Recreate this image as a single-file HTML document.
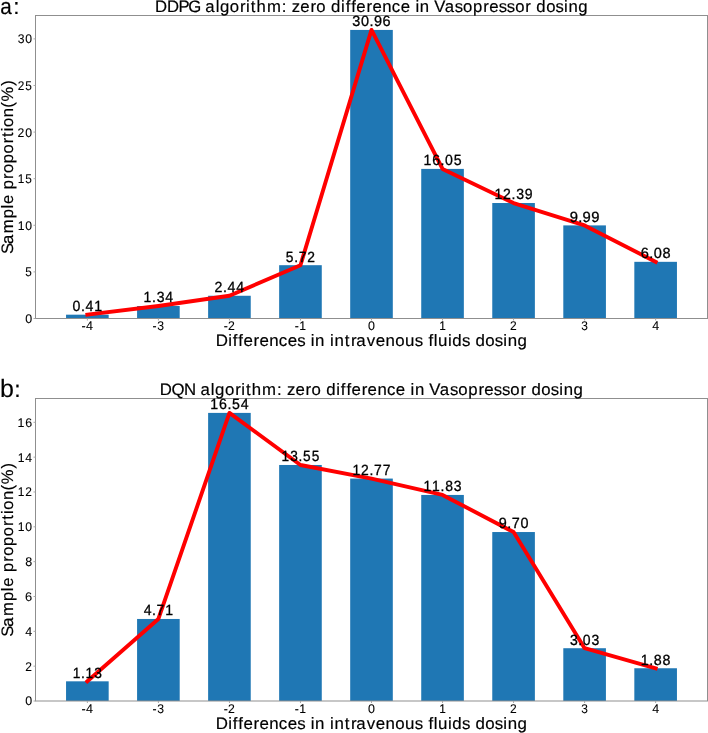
<!DOCTYPE html>
<html><head><meta charset="utf-8"><style>
html,body{margin:0;padding:0;background:#fff;}
svg{display:block;will-change:transform;}
text{font-family:"Liberation Sans",sans-serif;fill:#000;stroke:#000;font-variant-ligatures:none;text-rendering:geometricPrecision;}
</style></head><body>
<svg width="708" height="733" viewBox="0 0 708 733">
<rect width="708" height="733" fill="#fff"/>
<rect x="66.05" y="314.68" width="42.62" height="3.82" fill="#1f77b4"/>
<rect x="137.08" y="306.01" width="42.62" height="12.49" fill="#1f77b4"/>
<rect x="208.12" y="295.76" width="42.62" height="22.74" fill="#1f77b4"/>
<rect x="279.15" y="265.19" width="42.62" height="53.31" fill="#1f77b4"/>
<rect x="350.19" y="29.93" width="42.62" height="288.57" fill="#1f77b4"/>
<rect x="421.23" y="168.90" width="42.62" height="149.60" fill="#1f77b4"/>
<rect x="492.26" y="203.02" width="42.62" height="115.48" fill="#1f77b4"/>
<rect x="563.30" y="225.39" width="42.62" height="93.11" fill="#1f77b4"/>
<rect x="634.33" y="261.83" width="42.62" height="56.67" fill="#1f77b4"/>
<rect x="35.50" y="15.50" width="672.00" height="303.00" fill="none" stroke="#8f8f8f" stroke-width="1.0"/>
<line x1="87.36" y1="318.50" x2="87.36" y2="320.50" stroke="#a8a8a8" stroke-width="1"/>
<line x1="158.39" y1="318.50" x2="158.39" y2="320.50" stroke="#a8a8a8" stroke-width="1"/>
<line x1="229.43" y1="318.50" x2="229.43" y2="320.50" stroke="#a8a8a8" stroke-width="1"/>
<line x1="300.46" y1="318.50" x2="300.46" y2="320.50" stroke="#a8a8a8" stroke-width="1"/>
<line x1="371.50" y1="318.50" x2="371.50" y2="320.50" stroke="#a8a8a8" stroke-width="1"/>
<line x1="442.54" y1="318.50" x2="442.54" y2="320.50" stroke="#a8a8a8" stroke-width="1"/>
<line x1="513.57" y1="318.50" x2="513.57" y2="320.50" stroke="#a8a8a8" stroke-width="1"/>
<line x1="584.61" y1="318.50" x2="584.61" y2="320.50" stroke="#a8a8a8" stroke-width="1"/>
<line x1="655.64" y1="318.50" x2="655.64" y2="320.50" stroke="#a8a8a8" stroke-width="1"/>
<line x1="33.50" y1="318.50" x2="35.50" y2="318.50" stroke="#a8a8a8" stroke-width="1"/>
<line x1="33.50" y1="271.90" x2="35.50" y2="271.90" stroke="#a8a8a8" stroke-width="1"/>
<line x1="33.50" y1="225.29" x2="35.50" y2="225.29" stroke="#a8a8a8" stroke-width="1"/>
<line x1="33.50" y1="178.69" x2="35.50" y2="178.69" stroke="#a8a8a8" stroke-width="1"/>
<line x1="33.50" y1="132.08" x2="35.50" y2="132.08" stroke="#a8a8a8" stroke-width="1"/>
<line x1="33.50" y1="85.48" x2="35.50" y2="85.48" stroke="#a8a8a8" stroke-width="1"/>
<line x1="33.50" y1="38.88" x2="35.50" y2="38.88" stroke="#a8a8a8" stroke-width="1"/>
<polyline points="87.36,314.68 158.39,306.01 229.43,295.76 300.46,265.19 371.50,29.93 442.54,168.90 513.57,203.02 584.61,225.39 655.64,261.83" fill="none" stroke="#ff0000" stroke-width="3.9" stroke-linejoin="round" stroke-linecap="square"/>
<text transform="matrix(0.9563,0,0,1,0,311.08)" x="75.91 84.75 89.48 98.45" y="0" font-size="14.82" stroke-width="0.3">0.41</text>
<text transform="matrix(0.9442,0,0,1,0,302.41)" x="152.10 161.10 165.93 175.07" y="0" font-size="14.82" stroke-width="0.3">1.34</text>
<text transform="matrix(0.9585,0,0,1,0,292.16)" x="223.76 232.77 237.48 246.51" y="0" font-size="14.82" stroke-width="0.3">2.44</text>
<text transform="matrix(0.9341,0,0,1,0,261.59)" x="305.91 314.97 319.83 328.93" y="0" font-size="14.82" stroke-width="0.3">5.72</text>
<text transform="matrix(0.9745,0,0,1,0,26.33)" x="361.58 370.44 379.16 383.71 392.64" y="0" font-size="14.82" stroke-width="0.3">30.96</text>
<text transform="matrix(0.9535,0,0,1,0,165.30)" x="444.06 453.21 462.07 466.82 475.84" y="0" font-size="14.82" stroke-width="0.3">16.05</text>
<text transform="matrix(0.9485,0,0,1,0,199.42)" x="521.30 530.30 539.39 544.19 553.25" y="0" font-size="14.82" stroke-width="0.3">12.39</text>
<text transform="matrix(0.9985,0,0,1,0,221.79)" x="570.49 579.09 583.48 592.15" y="0" font-size="14.82" stroke-width="0.3">9.99</text>
<text transform="matrix(0.9824,0,0,1,0,258.23)" x="652.28 660.94 665.49 674.30" y="0" font-size="14.82" stroke-width="0.3">6.08</text>
<text transform="matrix(0.9925,0,0,1,0,330.40)" x="82.13 86.64" y="0" font-size="12.63" stroke-width="0.1">-4</text>
<text transform="matrix(0.9670,0,0,1,0,330.40)" x="157.82 162.50" y="0" font-size="12.63" stroke-width="0.1">-3</text>
<text transform="matrix(0.9698,0,0,1,0,330.40)" x="230.60 235.09" y="0" font-size="12.63" stroke-width="0.1">-2</text>
<text transform="matrix(0.9650,0,0,1,0,330.40)" x="305.37 310.00" y="0" font-size="12.63" stroke-width="0.1">-1</text>
<text transform="matrix(0.9852,0,0,1,0,330.40)" x="373.58" y="0" font-size="12.63" stroke-width="0.1">0</text>
<text transform="matrix(0.9409,0,0,1,0,330.40)" x="466.74" y="0" font-size="12.63" stroke-width="0.1">1</text>
<text transform="matrix(0.9496,0,0,1,0,330.40)" x="537.15" y="0" font-size="12.63" stroke-width="0.1">2</text>
<text transform="matrix(0.9461,0,0,1,0,330.40)" x="614.40" y="0" font-size="12.63" stroke-width="0.1">3</text>
<text transform="matrix(0.9853,0,0,1,0,330.40)" x="661.92" y="0" font-size="12.63" stroke-width="0.1">4</text>
<text transform="matrix(0.9852,0,0,1,0,322.95)" x="25.56" y="0" font-size="12.63" stroke-width="0.1">0</text>
<text transform="matrix(0.9298,0,0,1,0,276.35)" x="27.25" y="0" font-size="12.63" stroke-width="0.1">5</text>
<text transform="matrix(0.9642,0,0,1,0,229.74)" x="18.35 26.20" y="0" font-size="12.63" stroke-width="0.1">10</text>
<text transform="matrix(0.9351,0,0,1,0,183.14)" x="19.03 27.07" y="0" font-size="12.63" stroke-width="0.1">15</text>
<text transform="matrix(0.9678,0,0,1,0,136.53)" x="18.17 26.08" y="0" font-size="12.63" stroke-width="0.1">20</text>
<text transform="matrix(0.9395,0,0,1,0,89.93)" x="18.82 26.93" y="0" font-size="12.63" stroke-width="0.1">25</text>
<text transform="matrix(0.9657,0,0,1,0,43.33)" x="18.39 26.15" y="0" font-size="12.63" stroke-width="0.1">30</text>
<text transform="matrix(1.0099,0,0,1,0,11.85)" x="153.42 165.39 176.76 186.30 198.93 203.27 213.55 217.78 227.57 237.66 243.64 248.34 254.06 264.30 279.05 284.13 288.92 297.27 307.36 313.18 322.70 327.71 337.67 342.29 347.77 352.81 362.90 368.77 378.48 387.93 396.73 406.26 411.36 415.71 425.37 429.94 440.35 450.33 458.56 468.34 478.52 484.38 493.76 501.86 510.09 520.18 526.01 531.02 540.80 550.18 558.59 562.93 572.67" y="0" font-size="16.56" stroke-width="0.18">DDPG algorithm: zero difference in Vasopressor dosing</text>
<text transform="matrix(1.0196,0,0,1,0,345.80)" x="211.55 223.75 228.32 233.74 238.72 248.73 254.52 264.14 273.50 282.22 291.51 299.70 304.76 309.03 318.63 323.69 327.97 338.09 344.15 349.31 359.64 368.50 378.11 387.68 397.23 406.73 414.92 420.27 425.38 429.60 439.43 443.59 453.15 461.34 466.28 475.97 485.26 493.61 497.89 507.54" y="0" font-size="16.56" stroke-width="0.18">Differences in intravenous fluids dosing</text>
<text transform="translate(12.70,167.00) rotate(-90) matrix(1.0009,0,0,1,0,0.00)" x="-86.96 -76.93 -66.14 -51.18 -41.35 -37.08 -27.49 -22.23 -11.97 -6.10 3.77 13.46 23.62 30.04 35.80 40.01 49.81 59.24 65.56 81.10" y="0" font-size="16.56" stroke-width="0.18">Sample proportion(%)</text>
<rect x="66.05" y="681.32" width="42.62" height="19.68" fill="#1f77b4"/>
<rect x="137.08" y="618.96" width="42.62" height="82.04" fill="#1f77b4"/>
<rect x="208.12" y="412.90" width="42.62" height="288.10" fill="#1f77b4"/>
<rect x="279.15" y="464.98" width="42.62" height="236.02" fill="#1f77b4"/>
<rect x="350.19" y="478.57" width="42.62" height="222.43" fill="#1f77b4"/>
<rect x="421.23" y="494.94" width="42.62" height="206.06" fill="#1f77b4"/>
<rect x="492.26" y="532.04" width="42.62" height="168.96" fill="#1f77b4"/>
<rect x="563.30" y="648.22" width="42.62" height="52.78" fill="#1f77b4"/>
<rect x="634.33" y="668.25" width="42.62" height="32.75" fill="#1f77b4"/>
<rect x="35.50" y="398.50" width="672.00" height="302.50" fill="none" stroke="#8f8f8f" stroke-width="1.0"/>
<line x1="87.36" y1="701.00" x2="87.36" y2="703.00" stroke="#a8a8a8" stroke-width="1"/>
<line x1="158.39" y1="701.00" x2="158.39" y2="703.00" stroke="#a8a8a8" stroke-width="1"/>
<line x1="229.43" y1="701.00" x2="229.43" y2="703.00" stroke="#a8a8a8" stroke-width="1"/>
<line x1="300.46" y1="701.00" x2="300.46" y2="703.00" stroke="#a8a8a8" stroke-width="1"/>
<line x1="371.50" y1="701.00" x2="371.50" y2="703.00" stroke="#a8a8a8" stroke-width="1"/>
<line x1="442.54" y1="701.00" x2="442.54" y2="703.00" stroke="#a8a8a8" stroke-width="1"/>
<line x1="513.57" y1="701.00" x2="513.57" y2="703.00" stroke="#a8a8a8" stroke-width="1"/>
<line x1="584.61" y1="701.00" x2="584.61" y2="703.00" stroke="#a8a8a8" stroke-width="1"/>
<line x1="655.64" y1="701.00" x2="655.64" y2="703.00" stroke="#a8a8a8" stroke-width="1"/>
<line x1="33.50" y1="701.00" x2="35.50" y2="701.00" stroke="#a8a8a8" stroke-width="1"/>
<line x1="33.50" y1="666.16" x2="35.50" y2="666.16" stroke="#a8a8a8" stroke-width="1"/>
<line x1="33.50" y1="631.33" x2="35.50" y2="631.33" stroke="#a8a8a8" stroke-width="1"/>
<line x1="33.50" y1="596.49" x2="35.50" y2="596.49" stroke="#a8a8a8" stroke-width="1"/>
<line x1="33.50" y1="561.66" x2="35.50" y2="561.66" stroke="#a8a8a8" stroke-width="1"/>
<line x1="33.50" y1="526.82" x2="35.50" y2="526.82" stroke="#a8a8a8" stroke-width="1"/>
<line x1="33.50" y1="491.98" x2="35.50" y2="491.98" stroke="#a8a8a8" stroke-width="1"/>
<line x1="33.50" y1="457.15" x2="35.50" y2="457.15" stroke="#a8a8a8" stroke-width="1"/>
<line x1="33.50" y1="422.31" x2="35.50" y2="422.31" stroke="#a8a8a8" stroke-width="1"/>
<polyline points="87.36,681.32 158.39,618.96 229.43,412.90 300.46,464.98 371.50,478.57 442.54,494.94 513.57,532.04 584.61,648.22 655.64,668.25" fill="none" stroke="#ff0000" stroke-width="3.9" stroke-linejoin="round" stroke-linecap="square"/>
<text transform="matrix(0.9299,0,0,1,0,677.72)" x="78.11 87.22 92.06 101.46" y="0" font-size="14.82" stroke-width="0.3">1.13</text>
<text transform="matrix(0.9497,0,0,1,0,615.36)" x="151.26 160.16 164.90 173.97" y="0" font-size="14.82" stroke-width="0.3">4.71</text>
<text transform="matrix(0.9537,0,0,1,0,409.30)" x="220.50 229.65 238.51 243.20 252.32" y="0" font-size="14.82" stroke-width="0.3">16.54</text>
<text transform="matrix(0.9229,0,0,1,0,461.38)" x="304.95 314.41 323.48 328.39 337.77" y="0" font-size="14.82" stroke-width="0.3">13.55</text>
<text transform="matrix(0.9399,0,0,1,0,474.97)" x="374.93 384.02 393.17 397.99 407.19" y="0" font-size="14.82" stroke-width="0.3">12.77</text>
<text transform="matrix(0.9417,0,0,1,0,491.34)" x="449.66 458.84 467.86 472.69 481.90" y="0" font-size="14.82" stroke-width="0.3">11.83</text>
<text transform="matrix(0.9722,0,0,1,0,528.44)" x="512.99 521.76 526.35 535.28" y="0" font-size="14.82" stroke-width="0.3">9.70</text>
<text transform="matrix(0.9448,0,0,1,0,644.62)" x="603.20 612.11 616.92 626.09" y="0" font-size="14.82" stroke-width="0.3">3.03</text>
<text transform="matrix(0.9627,0,0,1,0,664.65)" x="665.62 674.49 679.17 688.16" y="0" font-size="14.82" stroke-width="0.3">1.88</text>
<text transform="matrix(0.9925,0,0,1,0,712.90)" x="82.13 86.64" y="0" font-size="12.63" stroke-width="0.1">-4</text>
<text transform="matrix(0.9670,0,0,1,0,712.90)" x="157.82 162.50" y="0" font-size="12.63" stroke-width="0.1">-3</text>
<text transform="matrix(0.9698,0,0,1,0,712.90)" x="230.60 235.09" y="0" font-size="12.63" stroke-width="0.1">-2</text>
<text transform="matrix(0.9650,0,0,1,0,712.90)" x="305.37 310.00" y="0" font-size="12.63" stroke-width="0.1">-1</text>
<text transform="matrix(0.9852,0,0,1,0,712.90)" x="373.58" y="0" font-size="12.63" stroke-width="0.1">0</text>
<text transform="matrix(0.9409,0,0,1,0,712.90)" x="466.74" y="0" font-size="12.63" stroke-width="0.1">1</text>
<text transform="matrix(0.9496,0,0,1,0,712.90)" x="537.15" y="0" font-size="12.63" stroke-width="0.1">2</text>
<text transform="matrix(0.9461,0,0,1,0,712.90)" x="614.40" y="0" font-size="12.63" stroke-width="0.1">3</text>
<text transform="matrix(0.9853,0,0,1,0,712.90)" x="661.92" y="0" font-size="12.63" stroke-width="0.1">4</text>
<text transform="matrix(0.9852,0,0,1,0,705.45)" x="25.56" y="0" font-size="12.63" stroke-width="0.1">0</text>
<text transform="matrix(0.9496,0,0,1,0,670.61)" x="26.49" y="0" font-size="12.63" stroke-width="0.1">2</text>
<text transform="matrix(0.9853,0,0,1,0,635.78)" x="25.56" y="0" font-size="12.63" stroke-width="0.1">4</text>
<text transform="matrix(1.0196,0,0,1,0,600.94)" x="24.58" y="0" font-size="12.63" stroke-width="0.1">6</text>
<text transform="matrix(0.9958,0,0,1,0,566.11)" x="25.25" y="0" font-size="12.63" stroke-width="0.1">8</text>
<text transform="matrix(0.9642,0,0,1,0,531.27)" x="18.35 26.20" y="0" font-size="12.63" stroke-width="0.1">10</text>
<text transform="matrix(0.9454,0,0,1,0,496.43)" x="18.79 26.62" y="0" font-size="12.63" stroke-width="0.1">12</text>
<text transform="matrix(0.9648,0,0,1,0,461.60)" x="18.33 26.17" y="0" font-size="12.63" stroke-width="0.1">14</text>
<text transform="matrix(0.9816,0,0,1,0,426.76)" x="17.96 25.67" y="0" font-size="12.63" stroke-width="0.1">16</text>
<text transform="matrix(1.0140,0,0,1,0,394.75)" x="157.52 169.10 181.44 193.38 197.69 207.94 212.15 221.89 231.94 237.91 242.59 248.28 258.46 273.17 278.24 283.00 291.32 301.37 307.15 316.65 321.63 331.56 336.16 341.61 346.63 356.69 362.52 372.20 381.60 390.38 399.87 404.95 409.27 418.91 423.44 433.81 443.75 451.95 461.69 471.83 477.67 487.01 495.08 503.28 513.33 519.14 524.12 533.87 543.21 551.59 555.91 565.60" y="0" font-size="16.56" stroke-width="0.18">DQN algorithm: zero difference in Vasopressor dosing</text>
<text transform="matrix(1.0196,0,0,1,0,728.90)" x="211.55 223.75 228.32 233.74 238.72 248.73 254.52 264.14 273.50 282.22 291.51 299.70 304.76 309.03 318.63 323.69 327.97 338.09 344.15 349.31 359.64 368.50 378.11 387.68 397.23 406.73 414.92 420.27 425.38 429.60 439.43 443.59 453.15 461.34 466.28 475.97 485.26 493.61 497.89 507.54" y="0" font-size="16.56" stroke-width="0.18">Differences in intravenous fluids dosing</text>
<text transform="translate(12.70,549.75) rotate(-90) matrix(1.0009,0,0,1,0,0.00)" x="-86.96 -76.93 -66.14 -51.18 -41.35 -37.08 -27.49 -22.23 -11.97 -6.10 3.77 13.46 23.62 30.04 35.80 40.01 49.81 59.24 65.56 81.10" y="0" font-size="16.56" stroke-width="0.18">Sample proportion(%)</text>
<text transform="matrix(0.9200,0,0,1,0,13.50)" x="0.35" y="0" font-size="22.50" stroke-width="0.15">a</text>
<text transform="matrix(1.0000,0,0,1,0,13.50)" x="13.32" y="0" font-size="22.50" stroke-width="0.15">:</text>
<text transform="matrix(1.0000,0,0,1,0,396.80)" x="-0.03" y="0" font-size="25.00" stroke-width="0.15">b</text>
<text transform="matrix(1.0000,0,0,1,0,396.80)" x="14.15" y="0" font-size="23.00" stroke-width="0.15">:</text>
</svg>
</body></html>
